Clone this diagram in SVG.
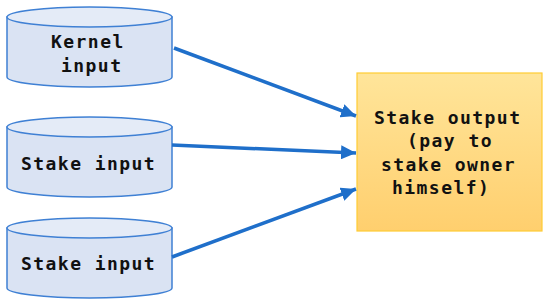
<svg xmlns="http://www.w3.org/2000/svg" width="550" height="307" viewBox="0 0 550 307">
  <defs>
    <linearGradient id="boxGrad" x1="0" y1="0" x2="0" y2="1">
      <stop offset="0" stop-color="#FFE59A"/>
      <stop offset="1" stop-color="#FFCF6E"/>
    </linearGradient>
    <marker id="arrow" markerUnits="userSpaceOnUse" markerWidth="16" markerHeight="14" refX="15" refY="7" orient="auto">
      <path d="M0,0 L15,7 L0,14 Z" fill="#1F6FCA"/>
    </marker>
    <style>
      .cyl-body { fill: #DAE3F3; stroke: #3F80D4; stroke-width: 1.5; }
      .cyl-top { fill: #E4EBF7; stroke: #3F80D4; stroke-width: 1.5; }
      .label { font-family: "DejaVu Sans Mono", "Liberation Mono", monospace; font-size: 18px; font-weight: bold; fill: #111111; letter-spacing: 1.45px; }
      .conn { stroke: #1F6FCA; stroke-width: 3.5; fill: none; marker-end: url(#arrow); }
    </style>
  </defs>
  <rect width="550" height="307" fill="#FFFFFF"/>

  <g id="kernel-input">
    <path class="cyl-body" d="M7,17 L7,77 A82.5,10 0 0 0 172,77 L172,17 Z"/>
    <ellipse class="cyl-top" cx="89.5" cy="17" rx="82.5" ry="10"/>
    <text class="label" x="51" y="48">Kernel</text>
    <text class="label" x="61" y="72">input</text>
  </g>

  <g id="stake-input-1">
    <path class="cyl-body" d="M7,127 L7,187 A82.5,10 0 0 0 172,187 L172,127 Z"/>
    <ellipse class="cyl-top" cx="89.5" cy="127" rx="82.5" ry="10"/>
    <text class="label" x="21" y="170">Stake input</text>
  </g>

  <g id="stake-input-2">
    <path class="cyl-body" d="M7,228 L7,288 A82.5,10 0 0 0 172,288 L172,228 Z"/>
    <ellipse class="cyl-top" cx="89.5" cy="228" rx="82.5" ry="10"/>
    <text class="label" x="21" y="270">Stake input</text>
  </g>

  <g id="stake-output">
    <rect x="357" y="73" width="185" height="158" fill="url(#boxGrad)" stroke="#FFCC33" stroke-width="1.2"/>
    <text class="label" x="374" y="124">Stake output</text>
    <text class="label" x="407" y="147">(pay to</text>
    <text class="label" x="381" y="171">stake owner</text>
    <text class="label" x="392" y="194">himself)</text>
  </g>

  <g id="connectors">
    <line class="conn" x1="174" y1="48" x2="356" y2="116"/>
    <line class="conn" x1="172" y1="145" x2="356" y2="153"/>
    <line class="conn" x1="172" y1="257" x2="356" y2="189"/>
  </g>
</svg>
